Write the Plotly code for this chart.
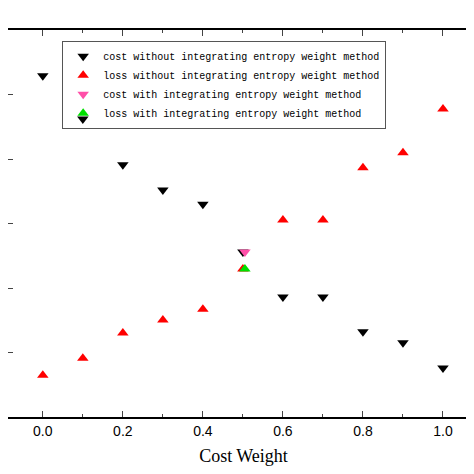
import plotly.graph_objects as go

weights = [0.0, 0.1, 0.2, 0.3, 0.4, 0.5, 0.6, 0.7, 0.8, 0.9, 1.0]
cost_without = [5.29, 4.62, 3.91, 3.52, 3.30, 2.56, 1.86, 1.86, 1.32, 1.15, 0.76]
loss_without = [0.81, 1.14, 1.63, 1.88, 2.09, 2.87, 3.82, 3.82, 4.83, 5.12, 5.97]
cost_with_x = [0.505]
cost_with = [2.56]
loss_with_x = [0.505]
loss_with = [2.87]
xticks = [0.0, 0.2, 0.4, 0.6, 0.8, 1.0]
xlabels = ["0.0", "0.2", "0.4", "0.6", "0.8", "1.0"]

fig = go.Figure()
mk = dict(size=10, line=dict(width=0))
fig.add_trace(go.Scatter(x=weights, y=cost_without, mode="markers", name="cost without integrating entropy weight method",
                         marker=dict(symbol="triangle-down", color="black", **mk)))
fig.add_trace(go.Scatter(x=weights, y=loss_without, mode="markers", name="loss without integrating entropy weight method",
                         marker=dict(symbol="triangle-up", color="red", **mk), yaxis="y2"))
fig.add_trace(go.Scatter(x=cost_with_x, y=cost_with, mode="markers", name="cost with integrating entropy weight method",
                         marker=dict(symbol="triangle-down", color="#ff4fa8", **mk)))
fig.add_trace(go.Scatter(x=loss_with_x, y=loss_with, mode="markers", name="loss with integrating entropy weight method",
                         marker=dict(symbol="triangle-up", color="#00e000", **mk), yaxis="y2"))

fig.update_layout(
    width=474, height=474, margin=dict(l=0, r=3, t=22, b=65, autoexpand=False),
    paper_bgcolor="white", plot_bgcolor="white", showlegend=True,
    xaxis=dict(range=[-0.087, 1.09], tickvals=xticks, ticktext=xlabels, ticks="inside", ticklen=6,
               showline=True, linecolor="black", linewidth=2, mirror="ticks", showgrid=False, zeroline=False,
               automargin=False, minor=dict(ticks="inside", ticklen=3, dtick=0.1),
               tickfont=dict(family="Liberation Sans", size=14, color="black"),
               title=dict(text="Cost Weight", font=dict(family="Liberation Serif", size=18, color="black"), standoff=12)),
    yaxis=dict(range=[0, 6], dtick=1, ticks="inside", ticklen=5, showticklabels=False, automargin=False,
               showline=True, linecolor="black", linewidth=2, showgrid=False, zeroline=False),
    yaxis2=dict(range=[0, 7.5], dtick=1, overlaying="y", side="right", ticks="outside", ticklen=6,
                tickcolor="red", showticklabels=False, showline=True, linecolor="red", linewidth=2,
                automargin=False, showgrid=False, zeroline=False,
                minor=dict(ticks="outside", ticklen=3, dtick=0.5, tickcolor="red")),
    legend=dict(x=0.115, y=0.972, xanchor="left", yanchor="top", bgcolor="rgba(255,255,255,0)",
                bordercolor="#555", borderwidth=1, tracegroupgap=0, itemwidth=30,
                font=dict(family="Liberation Mono", size=10, color="black")),
)
fig.write_html("out.html")
